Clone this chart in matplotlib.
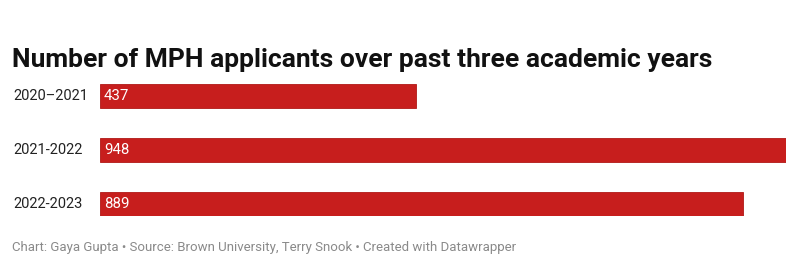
import matplotlib.pyplot as plt

# Data
years = ["2020–2021", "2021-2022", "2022-2023"]
applicants = [437, 948, 889]

bar_color = "#c71e1d"

plt.rcParams['font.family'] = ['Roboto', 'DejaVu Sans']

fig = plt.figure(figsize=(8, 2.68), dpi=100)
W, H = 800, 268

# axes placed in pixel terms: bars span x 100..786, y 84..216
ax = fig.add_axes([100 / W, 1 - 216 / H, 686 / W, 132 / H])
ax.barh(range(len(years)), applicants, height=0.444, color=bar_color,
        edgecolor="#b01816", linewidth=0.6)
ax.set_xlim(0, max(applicants))
ax.set_ylim(len(years) - 1 + 0.222, -0.222)
ax.axis('off')

for i, (lab, v) in enumerate(zip(years, applicants)):
    ax.annotate(str(v), xy=(0, i), xycoords='data', xytext=(4, 0),
                textcoords='offset pixels', fontsize=10.8, color='white',
                va='center', ha='left')
    ax.annotate(lab, xy=(0, i), xycoords='data', xytext=(-87, 0),
                textcoords='offset pixels', fontsize=10.5, color='#222222',
                va='center', ha='left', annotation_clip=False)

fig.text(12 / W, 1 - 67 / H, "Number of MPH applicants over past three academic years",
         fontsize=19, fontweight='bold', color='#111111', va='baseline', ha='left')
fig.text(12 / W, 1 - 247 / H,
         "Chart: Gaya Gupta • Source: Brown University, Terry Snook • Created with Datawrapper",
         fontsize=9.5, color='#8a8a8a', va='center', ha='left')

fig.savefig("out.png", dpi=100, facecolor='white')
